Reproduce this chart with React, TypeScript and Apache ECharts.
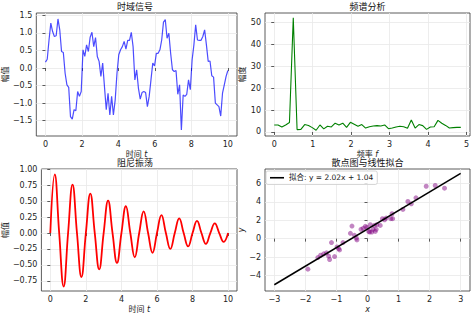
import { useEffect, useRef } from 'react';
import * as echarts from 'echarts';

// ---- Data ----
const signalValues = [
  0.17, 0.25, 0.8, 1.28, 1.04, 0.9, 0.92, 1.4, 1.09, 0.47, 0.44, -0.15, -0.48, -0.55, -1.39, -1.46,
  -1.19, -1.22, -0.67, -0.81, -0.67, 0.52, 0.33, 0.66, 0.47, 0.88, 1.02, 0.61, 0.87, 0.33, 0.19,
  -0.24, 0.14, -0.53, -1.19, -0.72, -1.34, -0.81, -1.34, -0.91, -0.15, 0.38, 0.52, 0.61, 0.76, 0.54,
  0.79, 0.79, 1.02, 0.61, -0.34, -0.05, -0.58, -0.89, -0.7, -0.67, -0.7, -1.1, -0.81, -0.34, 0.14,
  0.06, 0.42, 0.42, 0.52, 0.8, 1.31, 1.38, 0.85, 0.99, 0.42, -0.05, -0.1, -0.07, -0.75, -0.48, -1.77,
  -0.77, -0.81, -0.75, -0.34, -0.62, 0.23, 0.66, 1.23, 0.8, 0.79, 0.79, 0.9, 1.09, 0.66, 0.19, 0.2,
  -0.22, -0.26, -1.0, -1.05, -1.1, -1.37, -0.72, -0.48, -0.24, -0.07,
];
const signalStart = 0;
const signalEnd = 10;

const spectrumValues = [
  3.2, 3.2, 2.3, 3.2, 4.3, 52.1, 1.1, 1.2, 3.4, 3.0, 2.0, 0.8, 3.2, 1.4, 2.6, 2.3, 4.0, 3.2, 4.0, 2.1,
  4.4, 3.5, 2.6, 3.4, 1.8, 2.4, 2.7, 2.9, 2.7, 3.2, 1.5, 1.8, 2.3, 2.6, 2.4, 1.7, 5.5, 1.8, 3.4, 2.9,
  1.2, 2.3, 2.4, 5.3, 4.0, 3.0, 1.8, 2.0, 2.1, 2.1,
];
const freqStep = 0.099;

const dampedT = [
  0, 0.25, 0.5, 0.75, 1, 1.25, 1.5, 1.75, 2, 2.25, 2.5, 2.75, 3, 3.25, 3.5, 3.75, 4, 4.25, 4.5, 4.75,
  5, 5.25, 5.5, 5.75, 6, 6.25, 6.5, 6.75, 7, 7.25, 7.5, 7.75, 8, 8.25, 8.5, 8.75, 9, 9.25, 9.5, 9.75, 10,
];
const dampedValues = [
  0, 0.92, 0, -0.84, 0, 0.76, 0, -0.69, 0, 0.62, 0, -0.57, 0, 0.51, 0, -0.47, 0, 0.42, 0, -0.38,
  0, 0.34, 0, -0.31, 0, 0.28, 0, -0.25, 0, 0.23, 0, -0.21, 0, 0.19, 0, -0.17, 0, 0.15, 0, -0.14, 0,
];

const scatterX = [
  -1.92, -1.6, -1.51, -1.41, -1.32, -1.25, -1.22, -1.16, -1.06, -0.98, -0.93, -0.9, -0.79, -0.55, -0.5,
  -0.42, -0.36, -0.34, -0.21, -0.14, -0.07, -0.02, 0.04, 0.07, 0.09, 0.14, 0.18, 0.22, 0.25, 0.28, 0.3,
  0.41, 0.48, 0.55, 0.6, 0.75, 0.79, 0.81, 1.14, 1.3, 1.41, 1.56, 1.89, 2.18, 2.48,
];
const scatterY = [
  -3.32, -2.06, -1.81, -1.66, -1.55, -1.91, -2.27, -0.43, -1.95, -0.9, -1.08, -1.23, -0.43, 0.58, 1.37,
  0.36, 0.07, -0.14, 1.01, 1.12, 1.34, 1.23, 0.79, 0.72, 1.52, 0.72, 1.01, 1.44, 0.79, 1.01, 1.52,
  1.44, 2.17, 2.06, 2.24, 2.17, 2.71, 2.17, 3.18, 4.04, 3.79, 4.44, 5.7, 5.78, 5.49,
];
const fitX = [-3, 3];
const fitY = [-5.02, 7.1];
const fitLabel = '拟合: y = 2.02x + 1.04';

const tTicks = [0, 2, 4, 6, 8, 10];
const signalYTicks = [-1.5, -1, -0.5, 0, 0.5, 1, 1.5];
const freqTicks = [0, 1, 2, 3, 4, 5];
const ampTicks = [0, 10, 20, 30, 40, 50];
const dampedYTicks = [-0.75, -0.5, -0.25, 0, 0.25, 0.5, 0.75, 1];
const scatterXTicks = [-3, -2, -1, 0, 1, 2, 3];
const scatterYTicks = [-4, -2, 0, 2, 4, 6];

const titles = ['时域信号', '频谱分析', '阻尼振荡', '散点图与线性拟合'];

const FONT = '"DejaVu Sans", "Noto Sans CJK SC", sans-serif';
const minus = (s: string) => s.replace('-', '\u2212');

function axis(min: number, max: number, ticks: number[], dec: number, grid: number, extra: any = {}) {
  return {
    type: 'value',
    gridIndex: grid,
    min,
    max,
    axisLine: { show: false },
    axisTick: {
      show: true,
      inside: false,
      length: 3,
      customValues: ticks,
      lineStyle: { color: '#333', width: 0.8 },
    },
    axisLabel: {
      customValues: ticks,
      fontSize: 8,
      fontFamily: FONT,
      color: '#222',
      margin: 4,
      formatter: (v: number) => minus(v.toFixed(dec)),
    },
    splitLine: { show: true, lineStyle: { color: '#e8e8e8', width: 0.8 } },
    nameTextStyle: { fontSize: 8, fontFamily: FONT, color: '#222' },
    ...extra,
  };
}

export default function App() {
  const ref = useRef<HTMLDivElement>(null);
  useEffect(() => {
    if (!ref.current) return;
    const chart = echarts.init(ref.current, null, { renderer: 'svg' });
    const n = signalValues.length;
    const signalData = signalValues.map((v, i) => [
      signalStart + ((signalEnd - signalStart) * i) / (n - 1),
      v,
    ]);
    const spectrumData = spectrumValues.map((v, k) => [k * freqStep, v]);
    const dampedData = dampedValues.map((v, i) => [dampedT[i], v]);
    const scatterData = scatterX.map((x, i) => [x, scatterY[i]]);
    const fitData = fitX.map((x, i) => [x, fitY[i]]);

    const gridBase = { show: true, borderColor: '#333', borderWidth: 0.8, backgroundColor: 'transparent' };
    const grids = [
      { left: 33, top: 13, width: 204, height: 123 },
      { left: 265, top: 13, width: 205, height: 123 },
      { left: 33, top: 169, width: 204, height: 123 },
      { left: 265, top: 169, width: 205, height: 123 },
    ].map((g) => ({ ...gridBase, ...g }));

    const centers = [135, 367.5, 135, 367.5];
    const titleTops = [2, 2, 158.5, 158.5];

    const italicRich = {
      n: { fontSize: 8, fontFamily: FONT, color: '#222' },
      i: { fontSize: 8, fontFamily: FONT, color: '#222', fontStyle: 'italic' },
    };

    chart.setOption({
      animation: false,
      title: titles.map((t, i) => ({
        text: t,
        left: centers[i],
        top: titleTops[i],
        padding: 0,
        textAlign: 'center',
        textStyle: { fontSize: 9, fontWeight: 'normal', fontFamily: FONT, color: '#111' },
      })),
      grid: grids,
      xAxis: [
        axis(-0.5, 10.5, tTicks, 0, 0, {
          name: '{n|时间 }{i|t}', nameLocation: 'middle', nameGap: 14,
          nameTextStyle: { rich: italicRich },
        }),
        axis(-0.24, 5.09, freqTicks, 0, 1, {
          name: '{n|频率 }{i|f}', nameLocation: 'middle', nameGap: 14,
          nameTextStyle: { rich: italicRich },
        }),
        axis(-0.5, 10.5, tTicks, 0, 2, {
          name: '{n|时间 }{i|t}', nameLocation: 'middle', nameGap: 14,
          nameTextStyle: { rich: italicRich },
        }),
        axis(-3.3, 3.3, scatterXTicks, 0, 3, {
          name: '{i|x}', nameLocation: 'middle', nameGap: 14,
          nameTextStyle: { rich: italicRich },
        }),
      ],
      yAxis: [
        axis(-1.94, 1.57, signalYTicks, 1, 0, { name: '幅值', nameLocation: 'middle', nameGap: 22 }),
        axis(-1.83, 54.3, ampTicks, 0, 1, { name: '幅度', nameLocation: 'middle', nameGap: 17 }),
        axis(-0.91, 1.005, dampedYTicks, 2, 2, { name: '幅值', nameLocation: 'middle', nameGap: 26 }),
        axis(-5.7, 7.58, scatterYTicks, 0, 3, {
          name: '{i|y}', nameLocation: 'middle', nameGap: 14,
          nameTextStyle: { rich: italicRich },
        }),
      ],
      legend: {
        data: [fitLabel],
        left: 266,
        top: 171,
        icon: 'rect',
        itemWidth: 14,
        itemHeight: 1.6,
        itemGap: 4,
        padding: [3, 4],
        backgroundColor: 'rgba(255,255,255,0.8)',
        borderColor: '#ccc',
        borderWidth: 0.8,
        borderRadius: 2,
        textStyle: { fontSize: 7.5, fontFamily: FONT, color: '#222' },
      },
      series: [
        {
          type: 'line', xAxisIndex: 0, yAxisIndex: 0, data: signalData, showSymbol: false,
          lineStyle: { color: 'rgba(0,0,255,0.7)', width: 1.2 }, itemStyle: { color: 'rgba(0,0,255,0.7)' },
        },
        {
          type: 'line', xAxisIndex: 1, yAxisIndex: 1, data: spectrumData, showSymbol: false,
          lineStyle: { color: '#008000', width: 1.1 }, itemStyle: { color: '#008000' },
        },
        {
          type: 'line', xAxisIndex: 2, yAxisIndex: 2, data: dampedData, showSymbol: false, smooth: 0.45,
          lineStyle: { color: '#ff0000', width: 1.8 }, itemStyle: { color: '#ff0000' },
        },
        {
          type: 'scatter', xAxisIndex: 3, yAxisIndex: 3, data: scatterData, symbolSize: 5, z: 2,
          itemStyle: { color: 'rgba(128,0,128,0.6)' },
        },
        {
          name: fitLabel, type: 'line', xAxisIndex: 3, yAxisIndex: 3, data: fitData, showSymbol: false, z: 3,
          lineStyle: { color: '#000', width: 1.5 }, itemStyle: { color: '#000' },
        },
      ],
    });
    return () => chart.dispose();
  }, []);
  return (
    <div
      ref={ref}
      style={{ position: 'fixed', left: 0, top: 0, width: 474, height: 314, background: '#fff' }}
    />
  );
}
